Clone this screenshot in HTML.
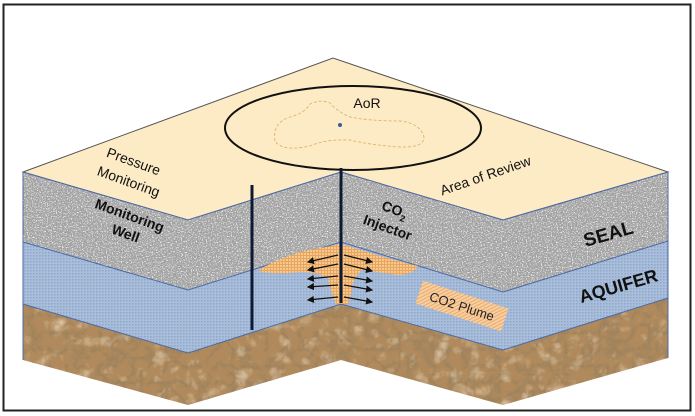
<!DOCTYPE html>
<html><head><meta charset="utf-8"><style>
html,body{margin:0;padding:0;background:#fff;}
svg{display:block;}
text{font-family:"Liberation Sans",sans-serif;}
</style></head><body>
<svg width="695" height="416" viewBox="0 0 695 416" xmlns="http://www.w3.org/2000/svg">
<defs>
<filter id="darkspk" x="0" y="0" width="100%" height="100%">
<feTurbulence type="fractalNoise" baseFrequency="0.8" numOctaves="2" seed="3" result="n"/>
<feColorMatrix in="n" type="matrix" values="0 0 0 0 0.3  0 0 0 0 0.3  0 0 0 0 0.3  4 0 0 0 -2.2" result="m"/>
<feComposite in="m" in2="SourceGraphic" operator="in"/>
</filter>
<filter id="lightspk" x="0" y="0" width="100%" height="100%">
<feTurbulence type="fractalNoise" baseFrequency="0.8" numOctaves="2" seed="11" result="n"/>
<feColorMatrix in="n" type="matrix" values="0 0 0 0 0.9  0 0 0 0 0.9  0 0 0 0 0.9  4 0 0 0 -2.0" result="m"/>
<feComposite in="m" in2="SourceGraphic" operator="in"/>
</filter>
<filter id="crump" x="0" y="0" width="100%" height="100%">
<feTurbulence type="turbulence" baseFrequency="0.06" numOctaves="3" seed="7" result="n"/>
<feColorMatrix in="n" type="matrix" values="0 0 0 0 0.33  0 0 0 0 0.22  0 0 0 0 0.11  -3 0 0 0 1.0" result="m"/>
<feComposite in="m" in2="SourceGraphic" operator="in"/>
</filter>
<filter id="crumpL" x="0" y="0" width="100%" height="100%">
<feTurbulence type="turbulence" baseFrequency="0.06" numOctaves="3" seed="19" result="n"/>
<feColorMatrix in="n" type="matrix" values="0 0 0 0 0.8  0 0 0 0 0.66  0 0 0 0 0.48  1.5 0 0 0 -0.5" result="m"/>
<feComposite in="m" in2="SourceGraphic" operator="in"/>
</filter>
<pattern id="dots" width="3" height="3" patternUnits="userSpaceOnUse">
<rect width="3" height="3" fill="#a9bedb"/>
<rect width="1.5" height="1.5" fill="#8ea6c8"/>
</pattern>
<pattern id="grid" width="3" height="3" patternUnits="userSpaceOnUse">
<rect width="3" height="3" fill="#f7c98f"/>
<rect width="3" height="1" fill="#e7a55f"/>
<rect width="1" height="3" fill="#e7a55f"/>
</pattern>
<pattern id="hatch" width="3" height="3" patternUnits="userSpaceOnUse" patternTransform="rotate(45)">
<rect width="3" height="3" fill="#f8cfa0"/>
<rect width="1" height="3" fill="#e9aa70"/>
</pattern>
<marker id="ah" markerWidth="6" markerHeight="6" refX="5" refY="3" orient="auto">
<path d="M0,0 L6,3 L0,6 z" fill="#111"/>
</marker>
</defs>
<rect x="3.5" y="4.5" width="687" height="406" fill="#fff" stroke="#222" stroke-width="2"/>
<polygon points="23,172 333,58 668,172 503,220 341,172 188,220" fill="#fdebc6" stroke="#555" stroke-width="1"/>
<polygon points="23,172 188,220 341,172 503,220 668,172 668,241 503,292 341,242 188,290 23,242" fill="#a4a4a4"/>
<polygon points="23,172 188,220 341,172 503,220 668,172 668,241 503,292 341,242 188,290 23,242" fill="#fff" filter="url(#darkspk)"/>
<polygon points="23,172 188,220 341,172 503,220 668,172 668,241 503,292 341,242 188,290 23,242" fill="#fff" filter="url(#lightspk)"/>
<polygon points="23,242 188,290 341,242 503,292 668,241 668,298 503,350 341,304 188,353 23,304" fill="url(#dots)"/>
<polygon points="23,304 188,353 341,304 503,350 668,298 668,358 503,405 341,360 188,405 23,360" fill="#b08a5c"/>
<polygon points="23,304 188,353 341,304 503,350 668,298 668,358 503,405 341,360 188,405 23,360" fill="#fff" filter="url(#crump)"/>
<polygon points="23,304 188,353 341,304 503,350 668,298 668,358 503,405 341,360 188,405 23,360" fill="#fff" filter="url(#crumpL)"/>
<g fill="none" stroke="#4d6aa6" stroke-width="1">
<polyline points="23,172 188,220 341,172 503,220 668,172"/>
<polyline points="23,242 188,290 341,242 503,292 668,241"/>
<polyline points="23,304 188,353 341,304 503,350 668,298"/>
<line x1="23" y1="172" x2="23" y2="360"/>
<line x1="668" y1="172" x2="668" y2="358"/>
</g>
<path d="M258,271 Q270,262 300,252 L341,244 L380,256 Q405,263 418,266 Q414,274 398,275 L362,270 Q352,278 352,290 L348,304 L336,304 Q330,290 328,278 Q318,272 300,272 Q275,275 258,271 z" fill="url(#grid)"/>
<ellipse cx="353" cy="128" rx="128" ry="42" fill="none" stroke="#111" stroke-width="2"/>
<path d="M275,141 Q272,123 290,117 Q305,113 310,104 Q320,99 330,103 Q338,112 350,117 Q370,121 400,121 Q420,123 424,137 Q424,148 400,147 Q370,145 350,140 Q325,139 310,146 Q282,152 275,141 z" fill="none" stroke="#e0b36a" stroke-width="0.9" stroke-dasharray="3,2"/>
<circle cx="340" cy="125" r="2" fill="#3c5aa0"/>
<text x="367" y="108" font-size="14" text-anchor="middle" fill="#111">AoR</text>
<line x1="252" y1="185" x2="252" y2="330" stroke="#0e1a33" stroke-width="3"/>
<line x1="341" y1="168" x2="341" y2="303" stroke="#0e1a33" stroke-width="3"/>
<g stroke="#111" stroke-width="1.2" marker-end="url(#ah)">
<line x1="338" y1="255" x2="308" y2="262"/><line x1="344" y1="255" x2="372" y2="262"/>
<line x1="338" y1="264" x2="308" y2="270"/><line x1="344" y1="264" x2="372" y2="271"/>
<line x1="338" y1="276" x2="308" y2="279"/><line x1="344" y1="276" x2="372" y2="281"/>
<line x1="338" y1="285" x2="308" y2="287"/><line x1="344" y1="285" x2="372" y2="290"/>
<line x1="338" y1="297" x2="308" y2="300"/><line x1="344" y1="297" x2="372" y2="302"/>
</g>
<g transform="translate(462,306) rotate(18)">
<rect x="-45" y="-12" width="90" height="24" fill="url(#hatch)"/>
<text x="0" y="5" font-size="13" text-anchor="middle" fill="#222">CO2 Plume</text>
</g>
<g font-size="14" fill="#111">
<text transform="translate(132,166) rotate(20)" text-anchor="middle">Pressure</text>
<text transform="translate(127,186) rotate(20)" text-anchor="middle">Monitoring</text>
<text transform="translate(487,180) rotate(-19)" text-anchor="middle">Area of Review</text>
</g>
<g font-size="14" font-weight="bold" fill="#111">
<text transform="translate(128,220) rotate(20)" text-anchor="middle">Monitoring</text>
<text transform="translate(124,238) rotate(20)" text-anchor="middle">Well</text>
<text transform="translate(393,214) rotate(20)" text-anchor="middle">CO<tspan font-size="9" dy="4">2</tspan></text>
<text transform="translate(386,232) rotate(20)" text-anchor="middle">Injector</text>
<text transform="translate(610,240) rotate(-16)" text-anchor="middle" font-size="19">SEAL</text>
<text transform="translate(620,292) rotate(-16)" text-anchor="middle" font-size="18">AQUIFER</text>
</g>
</svg>
</body></html>
